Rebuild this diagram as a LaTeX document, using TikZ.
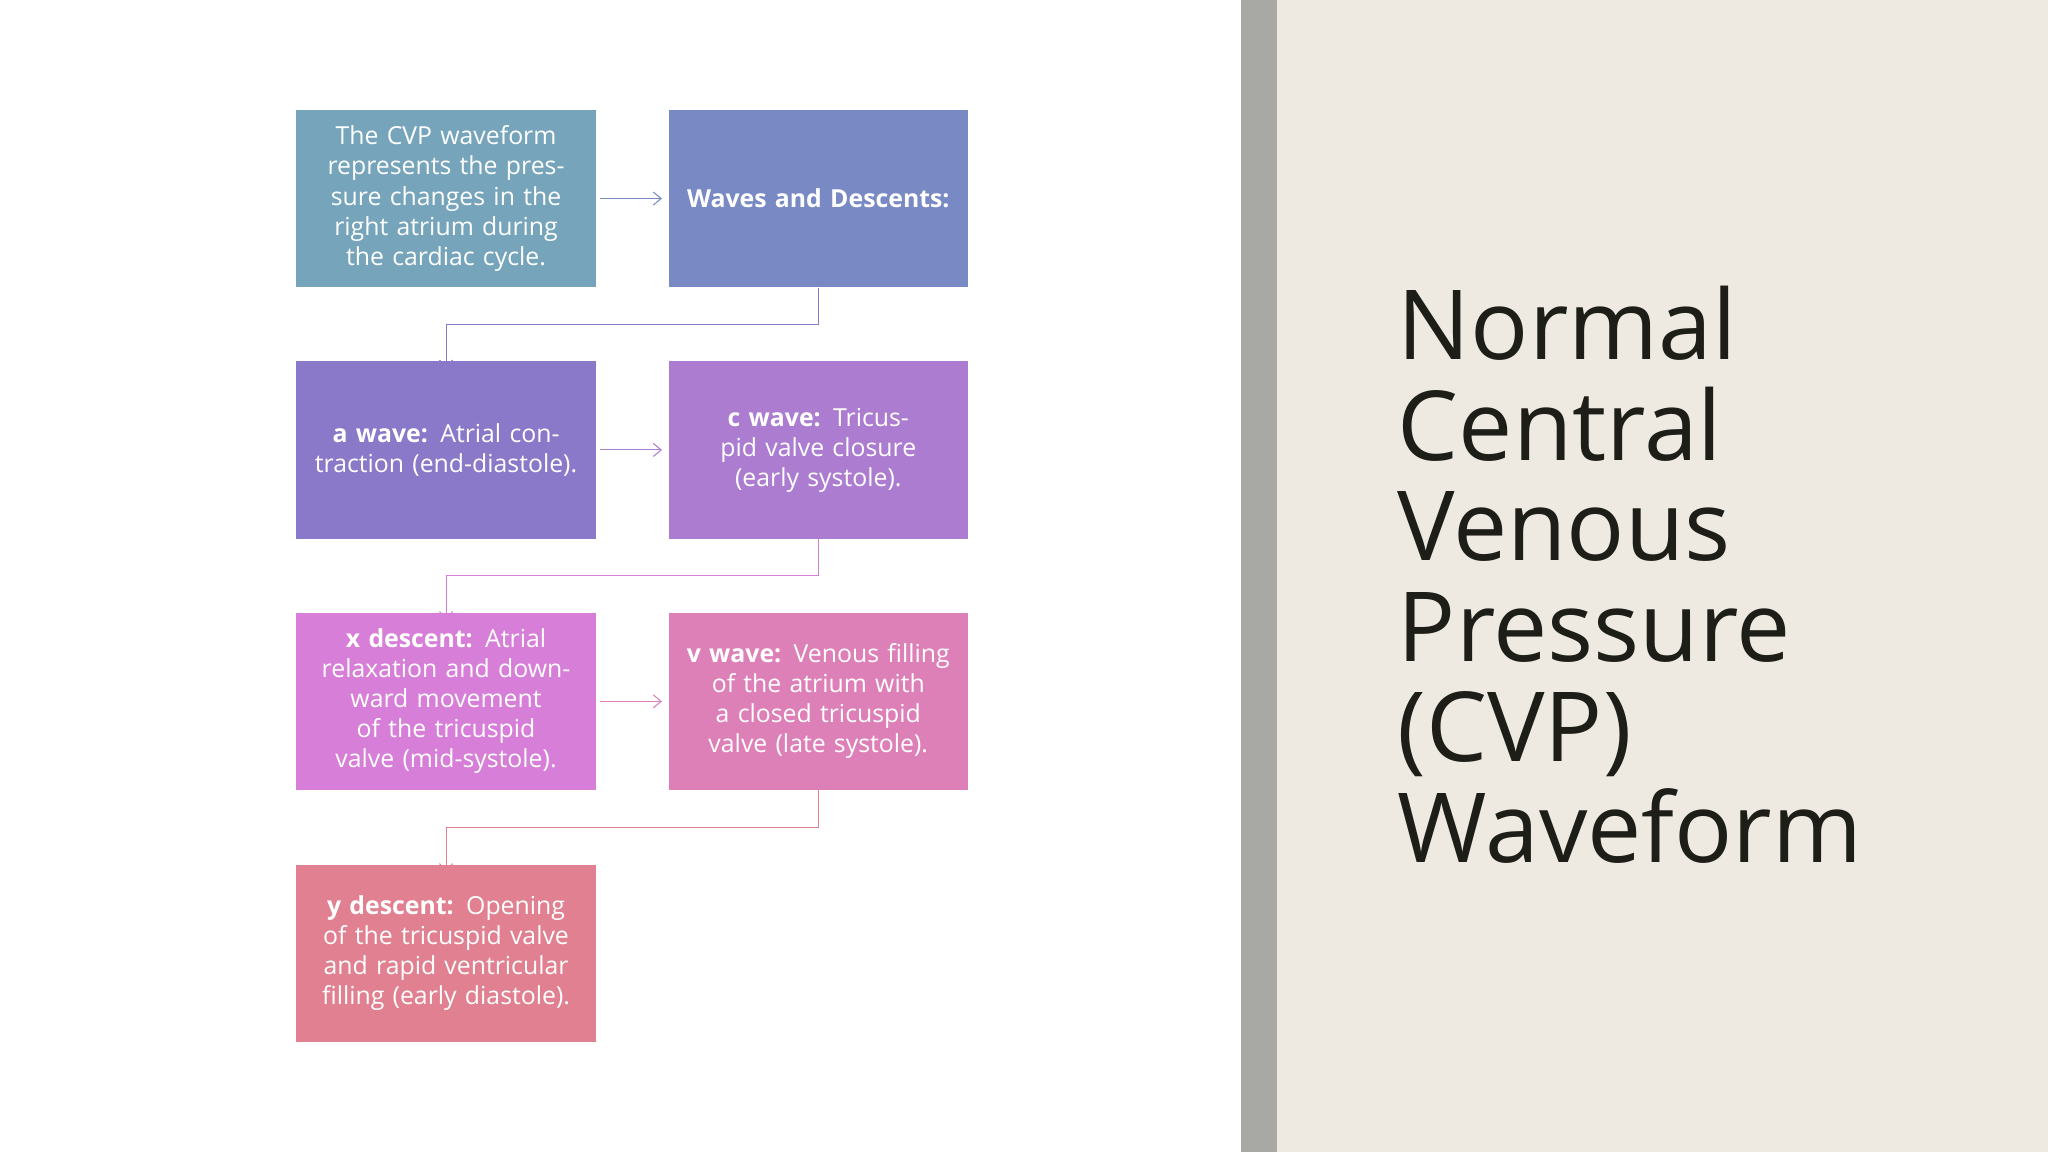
\documentclass[tikz,border=0pt]{standalone}
\usepackage{fontspec}
\setmainfont{Open Sans}
\usetikzlibrary{arrows.meta}
\definecolor{cA}{HTML}{76A4BA}
\definecolor{cB}{HTML}{7889C4}
\definecolor{cC}{HTML}{8A78C8}
\definecolor{cD}{HTML}{AC7CD0}
\definecolor{cE}{HTML}{D67ED8}
\definecolor{cF}{HTML}{DE80B8}
\definecolor{cG}{HTML}{E08090}
\definecolor{barc}{HTML}{A8A8A4}
\definecolor{panel}{HTML}{EEEAE2}
\definecolor{titc}{HTML}{1E1E18}
\tikzset{
 box/.style={fill=#1, minimum width=229pt, minimum height=136pt, text width=210pt, align=center, text=white, inner sep=0pt, font=\fontsize{19}{23}\selectfont},
 conn/.style={draw=#1, line width=0.8pt, -{Straight Barb[length=6pt,width=10pt]}}
}
\begin{document}
\begin{tikzpicture}[x=1pt,y=-1pt]
\useasboundingbox (0,0) rectangle (1568,882);
\fill[white] (0,0) rectangle (950,882);
\fill[barc] (950,0) rectangle (978,882);
\fill[panel] (978,0) rectangle (1568,882);
\node[box=cA] (b1) at (341.5,152) {The CVP waveform represents the pressure changes in the right atrium during the cardiac cycle.};
\node[box=cB] (b2) at (626.5,152) {\textbf{Waves and Descents:}};
\node[box=cC] (b3) at (341.5,344.5) {\textbf{a wave:} Atrial contraction (end-diastole).};
\node[box=cD] (b4) at (626.5,344.5) {\textbf{c wave:} Tricuspid valve closure (early systole).};
\node[box=cE] (b5) at (341.5,537) {\textbf{x descent:} Atrial relaxation and downward movement of the tricuspid valve (mid-systole).};
\node[box=cF] (b6) at (626.5,537) {\textbf{v wave:} Venous filling of the atrium with a closed tricuspid valve (late systole).};
\node[box=cG] (b7) at (341.5,730) {\textbf{y descent:} Opening of the tricuspid valve and rapid ventricular filling (early diastole).};
\draw[conn=cB] ([xshift=3pt]b1.east) -- ([xshift=-5pt]b2.west);
\draw[conn=cD] ([xshift=3pt]b3.east) -- ([xshift=-5pt]b4.west);
\draw[conn=cF] ([xshift=3pt]b5.east) -- ([xshift=-5pt]b6.west);
\draw[conn=cC] (b2.south) -- ++(0,28) -| ([yshift=-6pt]b3.north);
\draw[conn=cE] (b4.south) -- ++(0,28) -| ([yshift=-6pt]b5.north);
\draw[conn=cG] (b6.south) -- ++(0,28) -| ([yshift=-6pt]b7.north);
\node[anchor=west, align=left, text=titc, inner sep=0pt, font=\fontsize{74}{77}\selectfont] (title) at (1070,440) {Normal\\Central\\Venous\\Pressure\\(CVP)\\Waveform};
\end{tikzpicture}
\end{document}
